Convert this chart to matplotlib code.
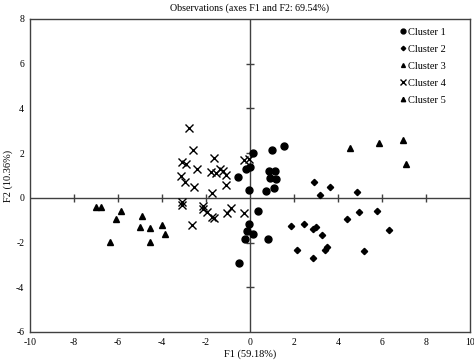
import matplotlib.pyplot as plt

plt.rcParams['font.family'] = ['Liberation Serif', 'DejaVu Serif']
plt.rcParams['axes.unicode_minus'] = False

c1_x = [0.16, 1.0, 1.57, -0.18, 0.01, -0.55, 0.85, 1.12, 0.92, 1.18, 0.74, 1.10, -0.02,
        0.35, -0.02, -0.11, 0.16, -0.23, 0.82, -0.50]
c1_y = [2.02, 2.14, 2.33, 1.28, 1.40, 0.92, 1.20, 1.20, 0.88, 0.85, 0.32, 0.43, 0.35,
        -0.59, -1.17, -1.48, -1.61, -1.82, -1.84, -2.90]

c2_x = [2.92, 3.65, 3.20, 4.85, 4.97, 4.41, 5.77, 6.33, 5.16, 1.86, 2.44, 2.86, 3.00,
        3.27, 3.50, 3.42, 2.14, 2.85]
c2_y = [0.70, 0.50, 0.13, 0.25, -0.64, -0.96, -0.57, -1.44, -2.37, -1.24, -1.17, -1.40,
        -1.29, -1.66, -2.21, -2.33, -2.33, -2.69]

c3_x = [-6.99, -6.77, -5.85, -6.06, -4.91, -4.97, -4.53, -3.97, -3.84, -6.34, -4.53]
c3_y = [-0.39, -0.42, -0.57, -0.93, -0.81, -1.30, -1.35, -1.20, -1.63, -1.96, -1.99]

c4_x = [-2.75, -2.58, -3.09, -2.90, -2.41, -3.12, -2.94, -2.55, -1.65, -1.77, -1.56, -1.35,
        -1.23, -1.08, -1.08, -1.71, -0.27, -0.05, -3.09, -3.09, -2.11, -2.14, -1.95, -1.73,
        -1.65, -0.86, -1.02, -0.29, -2.64]
c4_y = [3.11, 2.13, 1.59, 1.53, 1.31, 0.99, 0.70, 0.49, 1.77, 1.16, 1.10, 1.28,
        1.20, 1.01, 0.58, 0.23, 1.68, 1.73, -0.17, -0.32, -0.36, -0.51, -0.62, -0.84,
        -0.91, -0.47, -0.66, -0.69, -1.21]

c5_x = [4.56, 5.85, 6.95, 7.10]
c5_y = [2.25, 2.47, 2.59, 1.50]

x_ticks = [-10, -8, -6, -4, -2, 0, 2, 4, 6, 8, 10]
y_ticks = [-6, -4, -2, 0, 2, 4, 6, 8]

fig = plt.figure(figsize=(4.74, 3.63), dpi=100)
ax = fig.add_axes([0.0627, 0.0854, 0.929, 0.8623])

axis_col = '#404040'
ax.axhline(0, color=axis_col, lw=1, zorder=1)
ax.axvline(0, color=axis_col, lw=1, zorder=1)
# small ticks along the center axes
inner_x = [t for t in x_ticks if t not in (-10, 0, 10)]
inner_y = [t for t in y_ticks if t not in (-6, 0, 8)]
ax.plot(inner_x, [0] * len(inner_x), ls='none', marker='|', ms=6, mew=1, color=axis_col, zorder=1)
ax.plot([0] * len(inner_y), inner_y, ls='none', marker='_', ms=6, mew=1, color=axis_col, zorder=1)

ax.plot(c1_x, c1_y, 'o', color='black', ms=5, ls='none', label='Cluster 1', zorder=3)
ax.plot(c2_x, c2_y, 'D', color='black', ms=3.2, ls='none', label='Cluster 2', zorder=3)
ax.plot(c3_x, c3_y, '^', color='black', ms=4, ls='none', label='Cluster 3', zorder=3)
ax.plot(c4_x, c4_y, 'x', color='black', ms=5.5, mew=1, ls='none', label='Cluster 4', zorder=3)
ax.plot(c5_x, c5_y, '^', color='black', ms=4.5, ls='none', label='Cluster 5', zorder=3)

ax.set_xlim(-10, 10)
ax.set_ylim(-6, 8)
ax.set_xticks(x_ticks)
ax.set_yticks(y_ticks)
ax.tick_params(length=0, labelsize=7, pad=4)
for s in ax.spines.values():
    s.set_color(axis_col)
    s.set_linewidth(1)

ax.set_title('Observations (axes F1 and F2: 69.54%)', fontsize=7.2, pad=6)
ax.set_xlabel('F1 (59.18%)', fontsize=7.5, labelpad=2)
ax.set_ylabel('F2 (10.36%)', fontsize=7.5, labelpad=2)

ax.legend(loc='upper right', frameon=False, fontsize=7.5, handletextpad=0.05,
          handlelength=0.9, labelspacing=0.75, borderaxespad=0.4, markerscale=0.7,
          bbox_to_anchor=(0.965, 1.0))

fig.savefig('out.png', dpi=100)
